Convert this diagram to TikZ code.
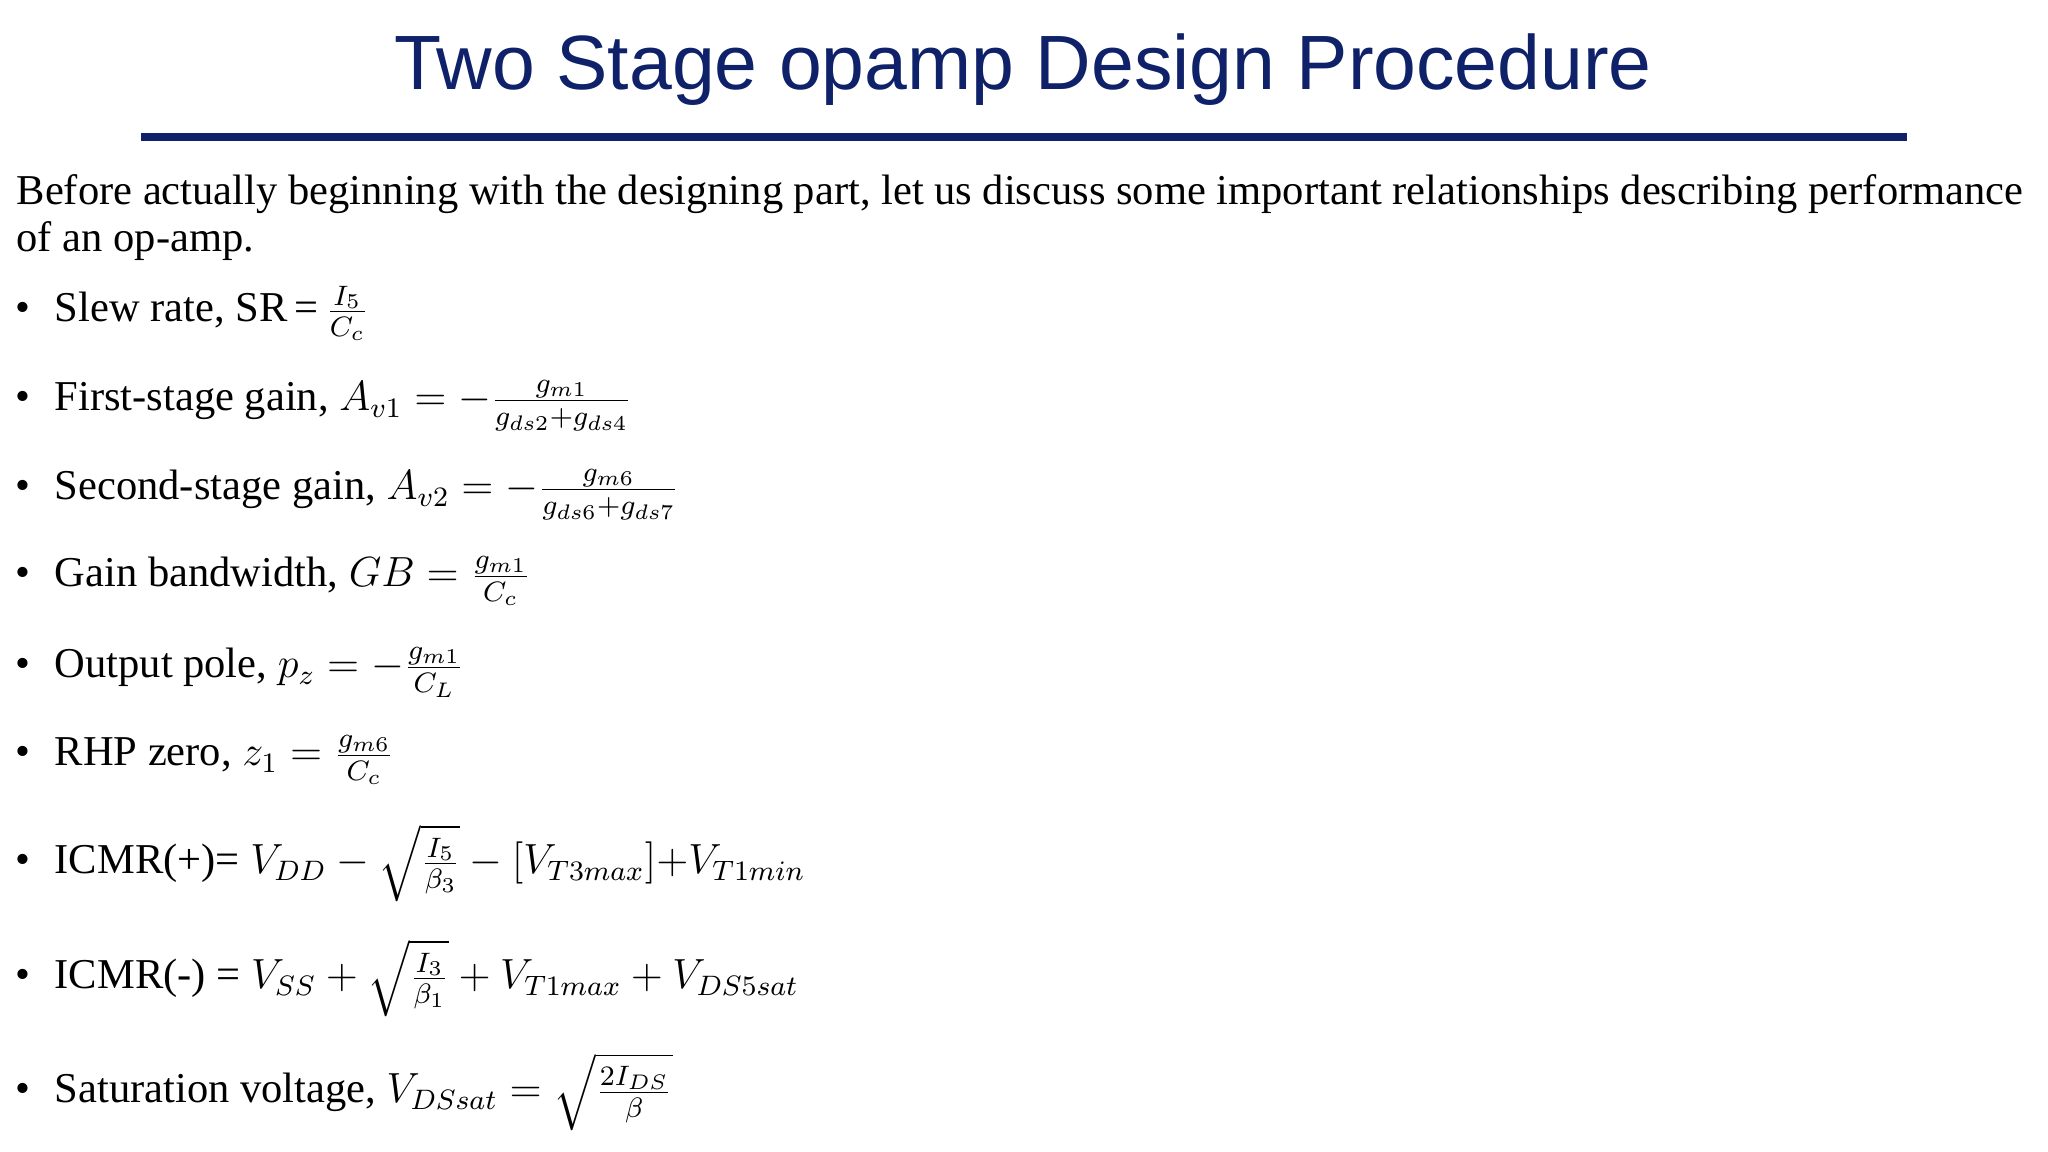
\documentclass[tikz,border=0pt]{standalone}
\usepackage{fontspec}
\usepackage{amsmath}
\setmainfont{Liberation Serif}
\newfontfamily\titlefont{Liberation Sans}
\definecolor{navy}{RGB}{14,33,105}
\begin{document}
\begin{tikzpicture}[x=1cm,y=1cm,
  body/.style={anchor=base west,inner sep=0pt,font=\fontsize{12.1}{15}\selectfont},
  bul/.style={anchor=base west,inner sep=0pt,font=\fontsize{12.1}{15}\selectfont}]
\useasboundingbox (0,0) rectangle (20.48,11.52);
\node[font=\titlefont\fontsize{21.9}{26}\selectfont,text=navy,anchor=base] (title) at (10.23,10.62) {Two Stage opamp Design Procedure};
\coordinate (r1) at (1.41,10.15);
\coordinate (r2) at (19.07,10.15);
\draw[navy,line width=6.5pt/3] (r1) -- (r2);
\node[body] (p1) at (0.16,9.47) {Before actually beginning with the designing part, let us discuss some important relationships describing performance};
\node[body] (p2) at (0.16,9.00) {of an op-amp.};
\foreach \y/\t [count=\i] in {
 8.30/{Slew rate, SR\,=\,$\frac{I_5}{C_c}$},
 7.41/{First-stage gain, $A_{v1}=-\frac{g_{m1}}{g_{ds2}+g_{ds4}}$},
 6.52/{Second-stage gain, $A_{v2}=-\frac{g_{m6}}{g_{ds6}+g_{ds7}}$},
 5.65/{Gain bandwidth, $GB=\frac{g_{m1}}{C_c}$},
 4.74/{Output pole, $p_z=-\frac{g_{m1}}{C_L}$},
 3.86/{RHP zero, $z_1=\frac{g_{m6}}{C_c}$},
 2.78/{ICMR(+)= $V_{DD}-\sqrt{\frac{I_5}{\beta_3}}-[V_{T3max}]{+}V_{T1min}$},
 1.63/{ICMR(-) = $V_{SS}+\sqrt{\frac{I_3}{\beta_1}}+V_{T1max}+V_{DS5sat}$},
 0.49/{Saturation voltage, $V_{DSsat}=\sqrt{\frac{2I_{DS}}{\beta}}$}}{
 \node[bul] (b\i) at (0.15,\y) {\textbullet};
 \node[body] (t\i) at (0.54,\y) {\t};
}
\end{tikzpicture}
\end{document}
